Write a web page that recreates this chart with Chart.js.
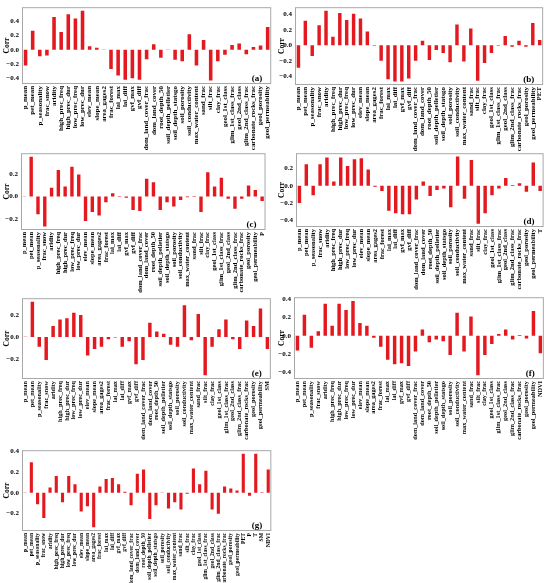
<!DOCTYPE html>
<html>
<head>
<meta charset="utf-8">
<script src="https://cdn.jsdelivr.net/npm/chart.js@4.4.1/dist/chart.umd.min.js"></script>
<style>
  html, body { margin: 0; padding: 0; background: #fff; }
  #wrap { position: relative; width: 550px; height: 583px; overflow: hidden; }
  .panel { position: absolute; }
</style>
</head>
<body>
<div id="wrap"></div>
<script>
// attribute names shared by every panel
const baseCats = ['p_mean', 'pet_mean', 'p_seasonality', 'frac_snow', 'aridity',
  'high_prec_freq', 'high_prec_dur', 'low_prec_freq', 'low_prec_dur', 'elev_mean',
  'slope_mean', 'area_gages2', 'frac_forest', 'lai_max', 'lai_diff', 'gvf_max',
  'gvf_diff', 'dom_land_cover_frac', 'dom_land_cover', 'root_depth_50',
  'soil_depth_pelletier', 'soil_depth_statsgo', 'soil_porosity', 'soil_conductivity',
  'max_water_content', 'sand_frac', 'silt_frac', 'clay_frac', 'geol_1st_class',
  'glim_1st_class_frac', 'geol_2nd_class', 'glim_2nd_class_frac',
  'carbonate_rocks_frac', 'geol_porosity', 'geol_permeability'];

const catsA = baseCats;
const catsB = baseCats.concat(['PET']);
const catsC = baseCats.concat(['P']);
const catsD = baseCats.concat(['T']);
const catsE = baseCats.concat(['SM']);
const catsF = baseCats.concat(['NDVI']);
const catsG = baseCats.concat(['PET', 'P', 'T', 'SM', 'NDVI']);

const corrA = [-0.22, 0.27, -0.09, -0.08, 0.46, 0.25, 0.50, 0.44, 0.55, 0.05,
  0.03, 0.005, -0.27, -0.36, -0.42, -0.40, -0.42, -0.13, 0.08, -0.11,
  0.005, -0.14, -0.16, 0.22, -0.22, 0.14, -0.43, -0.16, -0.07, 0.07,
  0.09, -0.06, 0.04, 0.06, 0.32];
const corrB = [-0.29, 0.32, -0.14, 0.26, 0.45, 0.11, 0.42, 0.33, 0.41, 0.35,
  0.18, -0.005, -0.20, -0.44, -0.47, -0.47, -0.43, -0.20, 0.06, -0.19,
  -0.06, -0.10, -0.22, 0.27, -0.21, 0.22, -0.46, -0.23, -0.10, -0.005,
  0.12, -0.02, 0.06, -0.02, 0.29, 0.07];
const corrC = [0.003, 0.36, -0.16, -0.27, 0.08, 0.24, 0.09, 0.27, 0.20, -0.22,
  -0.14, -0.17, -0.05, 0.03, 0.005, -0.01, -0.12, -0.13, 0.16, 0.13,
  -0.12, -0.05, -0.09, -0.03, -0.005, 0.005, -0.14, 0.22, 0.09, 0.17,
  -0.02, -0.11, -0.02, 0.10, 0.06, -0.04];
const corrD = [-0.20, 0.25, -0.11, 0.25, 0.33, 0.05, 0.33, 0.23, 0.31, 0.32,
  0.19, -0.01, -0.06, -0.29, -0.32, -0.33, -0.33, -0.16, 0.05, -0.12,
  -0.05, -0.03, -0.25, 0.34, -0.15, 0.30, -0.44, -0.32, -0.11, -0.03,
  0.09, 0.01, 0.03, -0.07, 0.27, -0.06];
const corrE = [0.003, 0.32, -0.09, -0.21, 0.10, 0.16, 0.17, 0.22, 0.20, -0.17,
  -0.11, -0.09, -0.02, -0.005, -0.09, -0.04, -0.25, -0.21, 0.13, 0.05,
  0.03, -0.07, -0.09, 0.29, -0.03, 0.21, -0.35, -0.09, 0.07, 0.16,
  -0.02, -0.11, 0.15, 0.10, 0.26, -0.11];
const corrF = [-0.16, 0.23, -0.13, 0.05, 0.35, 0.11, 0.35, 0.28, 0.38, 0.14,
  0.11, -0.02, -0.12, -0.26, -0.31, -0.30, -0.33, -0.17, 0.07, -0.07,
  -0.04, -0.06, -0.21, 0.25, -0.17, 0.21, -0.43, -0.21, -0.09, 0.02,
  0.07, -0.04, 0.01, -0.03, 0.27, -0.19];
const corrG = [0.003, 0.29, -0.11, -0.24, 0.05, 0.16, -0.09, 0.16, 0.08, -0.18,
  -0.13, -0.33, 0.06, 0.13, 0.14, 0.08, 0.01, -0.12, 0.18, 0.22,
  -0.25, -0.12, 0.002, -0.15, -0.09, -0.16, -0.01, 0.23, 0.08, 0.21,
  -0.16, -0.20, 0.06, 0.04, 0.02, 0.37, -0.03, 0.37, 0.005, 0.22];

// y tick labels per panel
const ticksA = [-0.4, -0.2, 0.0, 0.2, 0.4];
const ticksB = [-0.4, -0.2, 0.0, 0.2, 0.4];
const ticksC = [-0.2, 0.0, 0.2];
const ticksD = [-0.4, -0.2, 0.0, 0.2];
const ticksE = [-0.2, 0.0, 0.2];
const ticksF = [-0.4, -0.2, 0.0, 0.2, 0.4];
const ticksG = [-0.2, 0.0, 0.2, 0.4];

const tags = ['(a)', '(b)', '(c)', '(d)', '(e)', '(f)', '(g)'];

const SERIF = '"Liberation Serif", "Times New Roman", serif';
const BAR_RED = '#e3191f';

// layout: canvas rect [left, top, w, h], plot box [left, top, right, bottom], label size
const panels = [
  { cats: catsA, vals: corrA, ticks: ticksA, canvas: [0, 0, 278, 152],   box: [22, 3, 274, 84],     fs: 6.9 },
  { cats: catsB, vals: corrB, ticks: ticksB, canvas: [275, 0, 275, 152], box: [295, 3, 548, 85],    fs: 6.9 },
  { cats: catsC, vals: corrC, ticks: ticksC, canvas: [0, 146, 272, 150], box: [21, 149, 267, 230],  fs: 6.5 },
  { cats: catsD, vals: corrD, ticks: ticksD, canvas: [275, 146, 275, 150], box: [296, 149, 547, 227], fs: 6.5 },
  { cats: catsE, vals: corrE, ticks: ticksE, canvas: [0, 291, 277, 152], box: [22, 294, 273, 379],  fs: 6.3 },
  { cats: catsF, vals: corrF, ticks: ticksF, canvas: [275, 290, 275, 153], box: [294, 293, 546, 379], fs: 6.3 },
  { cats: catsG, vals: corrG, ticks: ticksG, canvas: [0, 443, 277, 140], box: [22, 446, 272, 531],  fs: 5.6 }
];

const fmt = v => {
  const s = Math.abs(v) < 1e-9 ? '0.0' : v.toFixed(1);
  return s.replace('-', '\u2212');
};

// gray frame round the plot and the panel tag
const framePlugin = {
  id: 'frame',
  afterDraw(chart, args, opts) {
    const { ctx, chartArea: a } = chart;
    ctx.save();
    ctx.strokeStyle = '#a8a8a8';
    ctx.lineWidth = 1;
    ctx.strokeRect(a.left + 0.5, a.top + 0.5, a.width - 1, a.height - 1);
    ctx.font = 'bold 9px ' + SERIF;
    ctx.fillStyle = '#000';
    ctx.textAlign = 'right';
    ctx.textBaseline = 'alphabetic';
    ctx.fillText(opts.tag, a.right - 9, a.bottom - 3);
    ctx.restore();
  }
};

const wrap = document.getElementById('wrap');

panels.forEach((p, i) => {
  const [cl, ct, cw, ch] = p.canvas;
  const [bl, bt, br, bb] = p.box;
  const div = document.createElement('div');
  div.className = 'panel';
  div.style.left = cl + 'px';
  div.style.top = ct + 'px';
  div.style.width = cw + 'px';
  div.style.height = ch + 'px';
  const cv = document.createElement('canvas');
  div.appendChild(cv);
  wrap.appendChild(div);

  // matplotlib-style 5% margins
  const lo = Math.min(0, ...p.vals), hi = Math.max(0, ...p.vals);
  const pad = (hi - lo) * 0.05;

  new Chart(cv, {
    type: 'bar',
    data: {
      labels: p.cats,
      datasets: [{
        data: p.vals,
        backgroundColor: BAR_RED,
        borderWidth: 0,
        barPercentage: 0.5,
        categoryPercentage: 1.0
      }]
    },
    options: {
      responsive: true,
      maintainAspectRatio: false,
      animation: false,
      layout: { padding: { left: 0, top: bt - ct, right: cl + cw - br, bottom: 0 } },
      plugins: {
        legend: { display: false },
        tooltip: { enabled: false },
        frame: { tag: tags[i] }
      },
      scales: {
        x: {
          grid: { display: false, drawTicks: false },
          border: { display: false },
          ticks: {
            autoSkip: false, minRotation: 90, maxRotation: 90, padding: 2,
            color: '#000', font: { family: SERIF, size: p.fs, weight: 'bold' }
          },
          afterFit: s => { s.height = ct + ch - bb; }
        },
        y: {
          min: lo - pad,
          max: hi + pad,
          grid: { display: false, drawTicks: false },
          border: { display: false },
          ticks: {
            padding: 3, color: '#000',
            font: { family: SERIF, size: 7, weight: 'bold' },
            callback: v => fmt(v)
          },
          title: {
            display: true, text: 'Corr', color: '#000',
            font: { family: SERIF, size: 7.5, weight: 'bold' },
            padding: { top: 3, bottom: 0 }
          },
          afterBuildTicks: s => { s.ticks = p.ticks.map(v => ({ value: v })); },
          afterFit: s => { s.width = bl - cl; }
        }
      }
    },
    plugins: [framePlugin]
  });
});
</script>
</body>
</html>
